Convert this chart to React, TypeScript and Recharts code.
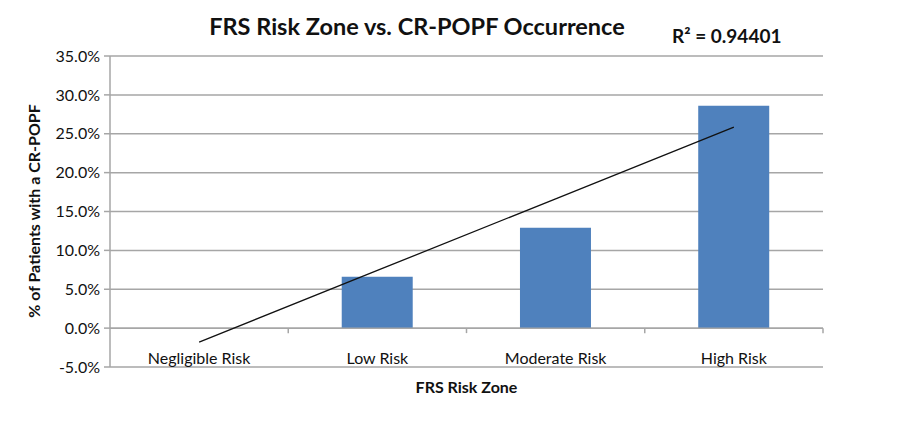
import React from "react";
import { ComposedChart, Bar, Line, XAxis, YAxis, CartesianGrid, ReferenceLine } from "recharts";

const categories = ["Negligible Risk", "Low Risk", "Moderate Risk", "High Risk"];
const popfRate = [0, 6.6, 12.9, 28.6];
const yTicks = [-5, 0, 5, 10, 15, 20, 25, 30, 35];
const rSquaredLabel = "R² = 0.94401";

// linear trendline (least squares over category index)
const n = popfRate.length;
const meanX = (n - 1) / 2;
const meanY = popfRate.reduce((a, b) => a + b, 0) / n;
let sxy = 0;
let sxx = 0;
popfRate.forEach((v, i) => {
  sxy += (i - meanX) * (v - meanY);
  sxx += (i - meanX) * (i - meanX);
});
const slope = sxy / sxx;
const intercept = meanY - slope * meanX;

const data = categories.map((name, i) => ({
  name,
  rate: popfRate[i],
  trend: intercept + slope * i,
}));

const FONT = "Lato, 'Open Sans', sans-serif";
const GRID = "#a6a6a6";

const CategoryTick = ({ x, y, payload }: any) => (
  <text x={x} y={y} dy={-11} textAnchor="middle" fontSize={16} fill="#111" fontFamily={FONT}>
    {payload.value}
  </text>
);

const ZeroAxis = ({ x1, y1, x2, y2 }: any) => {
  const step = (x2 - x1) / categories.length;
  return (
    <g>
      <line x1={x1} y1={y1} x2={x2} y2={y2} stroke={GRID} strokeWidth={1.5} />
      {categories.map((_, i) => (
        <line key={i} x1={x1 + step * (i + 1)} y1={y1} x2={x1 + step * (i + 1)} y2={y1 + 5} stroke={GRID} strokeWidth={1.5} />
      ))}
    </g>
  );
};

export default function App() {
  return (
    <div style={{ position: "absolute", left: 0, top: 0, width: 901, height: 427, background: "#fff", fontFamily: FONT }}>
      <div style={{ position: "absolute", left: 0, width: 834, top: 12, textAlign: "center", fontSize: 23.5, fontWeight: 700, color: "#111" }}>
        FRS Risk Zone vs. CR-POPF Occurrence
      </div>
      <div style={{ position: "absolute", left: 672, top: 24, fontSize: 19, fontWeight: 700, color: "#111" }}>
        {rSquaredLabel}
      </div>
      <div
        style={{
          position: "absolute",
          left: 33,
          top: 211,
          transform: "translate(-50%, -50%) rotate(-90deg)",
          whiteSpace: "nowrap",
          fontSize: 16,
          fontWeight: 700,
          color: "#111",
        }}
      >
        % of Patients with a CR-POPF
      </div>
      <div style={{ position: "absolute", left: 110, width: 713, top: 377, textAlign: "center", fontSize: 16, fontWeight: 700, color: "#111" }}>
        FRS Risk Zone
      </div>
      <ComposedChart width={901} height={427} data={data} margin={{ top: 56, right: 78, bottom: 20, left: 35 }} barCategoryGap="30%">
        <CartesianGrid vertical={false} stroke={GRID} strokeWidth={1.5} />
        <XAxis dataKey="name" axisLine={false} tickLine={false} height={40} tick={<CategoryTick />} interval={0} />
        <YAxis
          domain={[-5, 35]}
          ticks={yTicks}
          width={75}
          tickFormatter={(v: number) => `${v.toFixed(1)}%`}
          tick={{ fontSize: 16, fill: "#111", fontFamily: FONT }}
          axisLine={{ stroke: GRID, strokeWidth: 1.5 }}
          tickLine={{ stroke: GRID, strokeWidth: 1.5 }}
          tickSize={6}
          tickMargin={4}
          interval={0}
        />
        <ReferenceLine y={0} shape={<ZeroAxis />} />
        <Bar dataKey="rate" fill="#4F81BD" isAnimationActive={false} />
        <Line dataKey="trend" type="linear" stroke="#111" strokeWidth={1.3} dot={false} activeDot={false} isAnimationActive={false} />
      </ComposedChart>
    </div>
  );
}
